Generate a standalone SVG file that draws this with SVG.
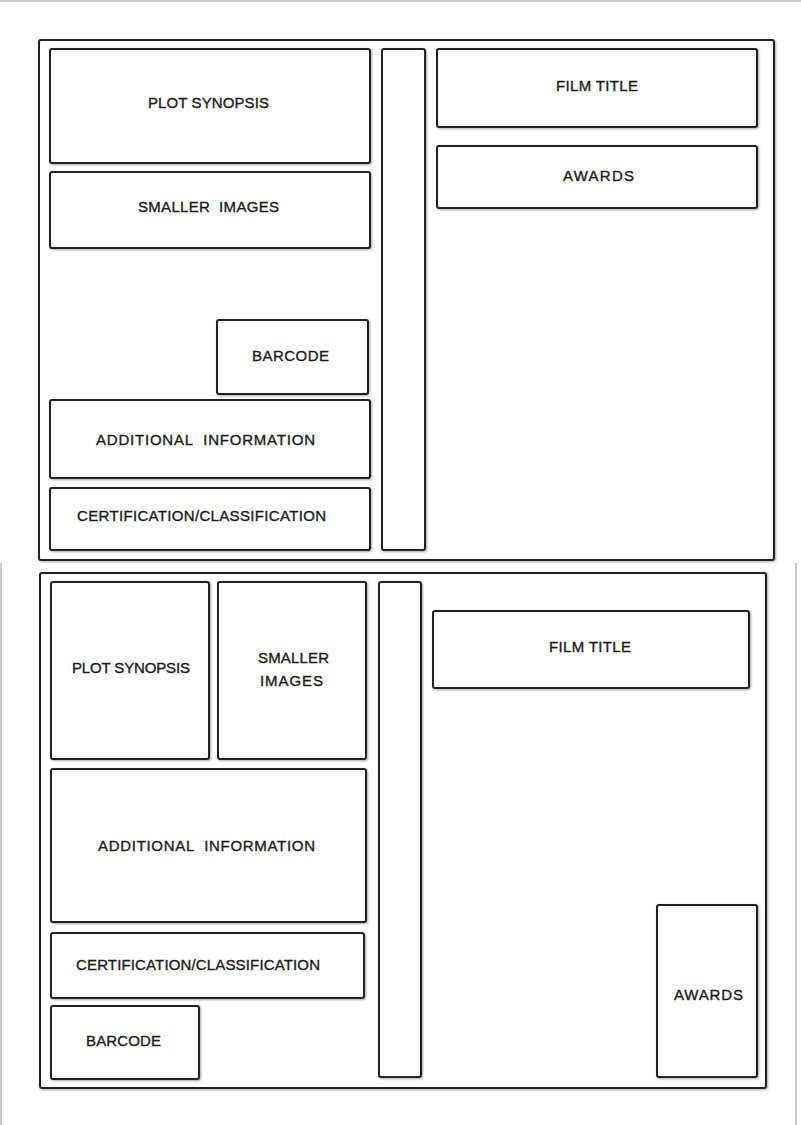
<svg xmlns="http://www.w3.org/2000/svg" width="801" height="1125" viewBox="0 0 801 1125">
<defs>
<filter id="sh" x="-5%" y="-5%" width="110%" height="110%">
<feDropShadow dx="1" dy="1" stdDeviation="0.8" flood-color="#000" flood-opacity="0.35"/>
</filter>
<style>
.box{fill:#fff;stroke:#222;stroke-width:2;filter:url(#sh)}
.frame{fill:#fff;stroke:#222;stroke-width:2;filter:url(#sh)}
.t{font-family:"Liberation Sans",Arial,sans-serif;font-size:15px;fill:#1a1a1a;stroke:#1a1a1a;stroke-width:0.35}
.edge{stroke:#c5cad3;stroke-width:2;fill:none}
</style>
</defs>
<rect width="801" height="1125" fill="#fff"/>
<g id="edges">
<line class="edge" x1="0" y1="1" x2="801" y2="1"/>
<line class="edge" x1="1" y1="563" x2="1" y2="1125"/>
<line class="edge" x1="796" y1="563" x2="796" y2="1125"/>
</g>
<g id="panel-top">
<rect class="frame" x="39" y="40" width="735" height="520" rx="2"/>
<g id="t-plot"><rect class="box" x="50" y="49" width="320" height="114" rx="2"/><text class="t" x="148" y="108" textLength="121">PLOT SYNOPSIS</text></g>
<g id="t-smaller"><rect class="box" x="50" y="172" width="320" height="76" rx="2"/><text class="t" x="138" y="212" textLength="141" xml:space="preserve">SMALLER  IMAGES</text></g>
<g id="t-spine"><rect class="box" x="382" y="49" width="43" height="501" rx="2"/></g>
<g id="t-film"><rect class="box" x="437" y="49" width="320" height="78" rx="2"/><text class="t" x="556" y="91" textLength="82">FILM TITLE</text></g>
<g id="t-awards"><rect class="box" x="437" y="146" width="320" height="62" rx="2"/><text class="t" x="563" y="181" textLength="71">AWARDS</text></g>
<g id="t-barcode"><rect class="box" x="217" y="320" width="151" height="74" rx="2"/><text class="t" x="252" y="361" textLength="77">BARCODE</text></g>
<g id="t-additional"><rect class="box" x="50" y="400" width="320" height="78" rx="2"/><text class="t" x="96" y="445" textLength="219" xml:space="preserve">ADDITIONAL  INFORMATION</text></g>
<g id="t-cert"><rect class="box" x="50" y="488" width="320" height="62" rx="2"/><text class="t" x="77" y="521" textLength="249">CERTIFICATION/CLASSIFICATION</text></g>
</g>
<g id="panel-bottom">
<rect class="frame" x="40" y="573" width="726" height="515" rx="2"/>
<g id="b-plot"><rect class="box" x="51" y="582" width="158" height="177" rx="2"/><text class="t" x="72" y="673" textLength="118">PLOT SYNOPSIS</text></g>
<g id="b-smaller"><rect class="box" x="218" y="582" width="148" height="177" rx="2"/><text class="t" x="258" y="663" textLength="71">SMALLER</text><text class="t" x="260" y="686" textLength="63">IMAGES</text></g>
<g id="b-spine"><rect class="box" x="379" y="582" width="42" height="495" rx="2"/></g>
<g id="b-film"><rect class="box" x="433" y="611" width="316" height="77" rx="2"/><text class="t" x="549" y="652" textLength="82">FILM TITLE</text></g>
<g id="b-additional"><rect class="box" x="51" y="769" width="315" height="153" rx="2"/><text class="t" x="98" y="851" textLength="217" xml:space="preserve">ADDITIONAL  INFORMATION</text></g>
<g id="b-cert"><rect class="box" x="51" y="933" width="313" height="65" rx="2"/><text class="t" x="76" y="970" textLength="244">CERTIFICATION/CLASSIFICATION</text></g>
<g id="b-barcode"><rect class="box" x="51" y="1006" width="148" height="73" rx="2"/><text class="t" x="86" y="1046" textLength="75">BARCODE</text></g>
<g id="b-awards"><rect class="box" x="657" y="905" width="100" height="172" rx="2"/><text class="t" x="674" y="1000" textLength="69">AWARDS</text></g>
</g>
<g id="connectors"/>
</svg>
